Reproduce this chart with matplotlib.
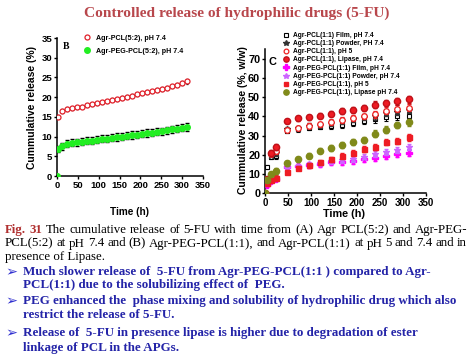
import matplotlib
matplotlib.use('Agg')
import matplotlib.pyplot as plt
from matplotlib.lines import Line2D

# ---- panel B data: 5-FU release, 5:2 blends ----
t_b = [0, 3, 12, 24, 36, 48, 60, 72, 84, 96, 108, 120, 132, 144, 156, 168,
       180, 192, 204, 216, 228, 240, 252, 264, 276, 288, 300, 312]
pcl52 = [0, 15.0, 16.5, 17.0, 17.2, 17.4, 17.6, 17.9, 18.2, 18.4, 18.7, 19.0, 19.3, 19.5,
         19.8, 20.1, 20.4, 20.7, 21.0, 21.3, 21.5, 21.8, 22.1, 22.4, 22.7, 23.1, 23.5, 24.0]
pcl52_err = [0, 0.4, 0.4, 0.4, 0.4, 0.4, 0.4, 0.4, 0.4, 0.4, 0.4, 0.4, 0.4, 0.4,
             0.4, 0.4, 0.4, 0.4, 0.4, 0.4, 0.4, 0.5, 0.5, 0.5, 0.5, 0.5, 0.5, 0.6]
peg52 = [0, 6.8, 7.5, 8.2, 8.4, 8.5, 8.7, 8.9, 9.0, 9.2, 9.4, 9.5, 9.7, 9.9,
         10.0, 10.2, 10.4, 10.5, 10.7, 10.9, 11.0, 11.2, 11.4, 11.6, 11.8, 12.0, 12.3, 12.5]
peg52_err = [0, 0.8, 0.8, 0.9, 0.9, 0.9, 0.9, 0.9, 0.9, 0.9, 0.9, 0.9, 0.9, 0.9,
             0.9, 0.9, 0.9, 0.9, 0.9, 0.9, 0.9, 0.9, 0.9, 0.9, 0.9, 0.9, 1.0, 1.0]

# ---- panel C data: 1:1 blends ----
t_c = [0, 4, 12, 24, 48, 72, 96, 120, 144, 168, 192, 216, 240, 264, 288, 312]
pcl11_film = [0, 13.7, 19.0, 19.5, 32.5, 33.3, 34.0, 34.5, 35.0, 35.5, 36.5, 37.5, 38.5, 39.5, 40.0, 40.2]
pcl11_powder = [0, 6.0, 20.0, 21.0, 33.5, 33.8, 35.0, 35.5, 36.5, 37.5, 38.5, 39.5, 40.0, 42.0, 42.5, 43.5]
pcl11_ph5 = [0, 7.0, 20.5, 22.0, 33.0, 34.0, 35.0, 36.0, 37.0, 38.0, 39.0, 40.0, 41.0, 43.0, 44.0, 44.5]
pcl11_lipase = [0, 7.5, 21.0, 24.0, 37.5, 39.0, 39.5, 40.3, 41.5, 43.0, 43.5, 44.2, 46.0, 47.0, 48.0, 49.0]
peg11_film = [0, 4.0, 6.5, 7.5, 13.5, 14.0, 14.5, 15.0, 16.0, 16.0, 16.5, 17.5, 18.5, 19.5, 20.5, 21.0]
peg11_powder = [0, 5.0, 7.0, 8.0, 13.0, 14.0, 15.0, 15.5, 16.5, 17.0, 17.5, 19.0, 20.5, 21.5, 22.5, 24.0]
peg11_ph5 = [0, 5.0, 7.0, 8.0, 11.0, 13.0, 14.5, 16.0, 17.5, 19.5, 21.0, 23.0, 24.0, 26.5, 27.0, 29.0]
peg11_lipase = [0, 7.0, 10.0, 11.5, 15.5, 17.5, 19.5, 22.0, 23.5, 25.0, 26.5, 27.5, 31.0, 33.0, 35.5, 37.0]
err_hi = [0, 1.0, 1.2, 1.5, 1.2, 1.2, 1.3, 1.3, 1.5, 1.5, 1.5, 1.5, 1.8, 1.8, 1.8, 1.8]
err_lo = [0, 0.8, 1.0, 1.2, 1.0, 1.0, 1.2, 1.2, 1.3, 1.3, 1.4, 1.5, 1.6, 1.6, 1.6, 1.8]

x_ticks = [0, 50, 100, 150, 200, 250, 300, 350]
title = "Controlled release of hydrophilic drugs (5-FU)"
caption = ["The cumulative release of  5-FU with time from (A) Agr PCL(5:2) and  Agr-PEG-",
           "PCL(5:2) at pH 7.4 and (B) Agr-PEG-PCL(1:1), and Agr-PCL(1:1) at pH 5 and 7.4 and in",
           "presence of Lipase."]
bullets = [["Much slower release of  5-FU from Agr-PEG-PCL(1:1 ) compared to Agr-",
            "PCL(1:1) due to the solubilizing effect of  PEG."],
           ["PEG enhanced the  phase mixing and solubility of hydrophilic drug which also",
            "restrict the release of 5-FU."],
           ["Release of  5-FU in presence lipase is higher due to degradation of ester",
            "linkage of PCL in the APGs."]]

W, H = 474, 355
fig = plt.figure(figsize=(4.74, 3.55), dpi=100)
r = fig.canvas.get_renderer()


def fx(x):
    return x / W


def fy(y):
    return 1 - y / H


def text_w(s, **kw):
    t = fig.text(0, 0, s, **kw)
    w = t.get_window_extent(r).width
    t.remove()
    return w


sans = 'Liberation Sans'
serif = 'Liberation Serif'


def style_axes(ax, tsize):
    for s in ['top', 'right']:
        ax.spines[s].set_visible(False)
    for s in ['left', 'bottom']:
        ax.spines[s].set_linewidth(1.1)
    ax.tick_params(direction='out', length=2.5, width=1, pad=1, labelsize=tsize)
    for lab in ax.get_xticklabels() + ax.get_yticklabels():
        lab.set_fontweight('bold')
        lab.set_fontfamily(sans)


# ---- panel B ----
axb = fig.add_axes([fx(57), fy(176), fx(203 - 57), (176 - 38) / H])
axb.errorbar(t_b, pcl52, yerr=pcl52_err, fmt='o', ms=3.6, mfc='white', mec='#e0202a',
             mew=0.9, ecolor='black', elinewidth=0.5, capsize=1, zorder=3)
axb.errorbar(t_b, peg52, yerr=peg52_err, fmt='o', ms=4, mfc='#22ee22', mec='#22ee22',
             ecolor='black', elinewidth=0.5, capsize=1.2, zorder=4)
axb.set_xlim(0, 350)
axb.set_ylim(0, 35)
axb.set_xticks(x_ticks)
axb.set_yticks(range(0, 36, 5))
style_axes(axb, 6.8)
axb.text(0.04, 0.97, 'B', transform=axb.transAxes, fontsize=7, fontweight='bold',
         family=serif, va='top')
hb = [Line2D([], [], ls='none', marker='o', ms=3.6, mfc='white', mec='#e0202a', mew=0.9),
      Line2D([], [], ls='none', marker='o', ms=4, mfc='#22ee22', mec='#22ee22')]
fig.legend(hb, ['Agr-PCL(5:2), pH 7.4', 'Agr-PEG-PCL(5:2), pH 7.4'], loc='upper left',
           bbox_to_anchor=(fx(80), fy(31)), frameon=False, handlelength=1, handletextpad=0.7,
           labelspacing=0.9, borderpad=0, prop={'family': sans, 'weight': 'bold', 'size': 5.1})
fig.text(fx(130), fy(212), 'Time (h)', ha='center', va='center', fontsize=7.2,
         fontweight='bold', family=sans)
fig.text(fx(32), fy(107), 'Cummulative release (%)', ha='center', va='center', rotation=90,
         fontsize=7.5, fontweight='bold', family=sans)

# ---- panel C ----
axc = fig.add_axes([fx(265), fy(193), fx(426 - 265), (193 - 49.4) / H])
series_c = [
    (pcl11_film, err_hi, dict(marker='s', mfc='white', mec='black', ms=3.5, mew=0.8)),
    (pcl11_powder, err_hi, dict(marker='*', mfc='#333333', mec='#333333', ms=4.5)),
    (pcl11_ph5, err_hi, dict(marker='o', mfc='white', mec='#ee2020', ms=4, mew=0.9)),
    (pcl11_lipase, err_hi, dict(marker='o', mfc='#ee1c24', mec='#c01018', ms=4.5)),
    (peg11_film, err_lo, dict(marker='P', mfc='#ff00ff', mec='#ff00ff', ms=4.5)),
    (peg11_powder, err_lo, dict(marker='*', mfc='#cc66ff', mec='#cc66ff', ms=5)),
    (peg11_ph5, err_lo, dict(marker='s', mfc='#ee1c24', mec='#ee1c24', ms=3.6)),
    (peg11_lipase, err_hi, dict(marker='o', mfc='#808a1a', mec='#808a1a', ms=4.5)),
]
labels_c = ['Agr-PCL(1:1) Film, pH 7.4', 'Agr-PCL(1:1) Powder, PH 7.4', 'Agr-PCL(1:1), pH 5',
            'Agr-PCL(1:1), Lipase, pH 7.4', 'Agr-PEG-PCL(1:1) Film, pH 7.4',
            'Agr-PEG-PCL(1:1) Powder, pH 7.4', 'Agr-PEG-PCL(1:1), pH 5',
            'Agr-PEG-PCL(1:1), Lipase pH 7.4']
handles_c = []
for i, (vals, err, st) in enumerate(series_c):
    axc.errorbar(t_c, vals, yerr=err, ls='none', ecolor=st['mec'], elinewidth=0.7,
                 capsize=1.2, zorder=3 + i, **st)
    handles_c.append(Line2D([], [], ls='none', **{**st, 'ms': st['ms'] * 0.85}))
axc.set_xlim(0, 350)
axc.set_ylim(0, 75)
axc.set_xticks(x_ticks)
axc.set_yticks(range(0, 71, 10))
style_axes(axc, 7)
axc.tick_params(axis='y', labelsize=7.8)
axc.text(0.02, 0.95, 'C', transform=axc.transAxes, fontsize=7.8, fontweight='bold',
         family=sans, va='top')
fig.legend(handles_c, labels_c, loc='upper left', bbox_to_anchor=(fx(279), fy(28.5)),
           frameon=False, handlelength=1, handletextpad=0.6, labelspacing=0.18, borderpad=0,
           prop={'family': sans, 'weight': 'bold', 'size': 4.8})
fig.text(fx(344), fy(214), 'Time (h)', ha='center', va='center', fontsize=7.8,
         fontweight='bold', family=sans)
fig.text(fx(243), fy(120), 'Cummulative release (%, w/w)', ha='center', va='center',
         rotation=90, fontsize=7.5, fontweight='bold', family=sans)

# ---- title ----
ts = 10 * 307 / text_w(title, size=10, family=serif, weight='bold')
fig.text(fx(237), fy(13), title, ha='center', va='center', fontsize=ts, family=serif,
         fontweight='bold', color='#b8474c')

# ---- caption, justified ----
cs = 9.3


def justify(runs, y, x0, x1, size):
    words = []
    for s, kw in runs:
        words += [(w, kw) for w in s.split()]
    widths = [text_w(w, fontsize=size, **kw) for w, kw in words]
    gap = (x1 - x0 - sum(widths)) / (len(words) - 1)
    x = x0
    for (w, kw), wd in zip(words, widths):
        fig.text(fx(x), fy(y), w, ha='left', va='center', fontsize=size, **kw)
        x += wd + gap


plain = dict(family=serif, color='black')
justify([("Fig. 31", dict(family=serif, color='#b03030', weight='bold')),
         (caption[0], plain)], 230, 5, 467, cs)
justify([(caption[1], plain)], 243.5, 5, 467, cs)
fig.text(fx(5), fy(257), caption[2], ha='left', va='center', fontsize=cs, **plain)

# ---- bullets ----
bs = 10 * 438 / text_w(bullets[1][0], size=10, family=serif, weight='bold')
line_y = [(272, 285), (301, 315), (333, 348)]
for lines, ys in zip(bullets, line_y):
    fig.text(fx(5), fy(ys[0]), '\u27a2', ha='left', va='center', fontsize=bs * 1.1,
             family=['DejaVu Sans'], color='#3030d0')
    for s, y in zip(lines, ys):
        fig.text(fx(23), fy(y), s, ha='left', va='center', fontsize=bs, family=serif,
                 fontweight='bold', color='#2424a8')

fig.savefig('out.png', dpi=100)
